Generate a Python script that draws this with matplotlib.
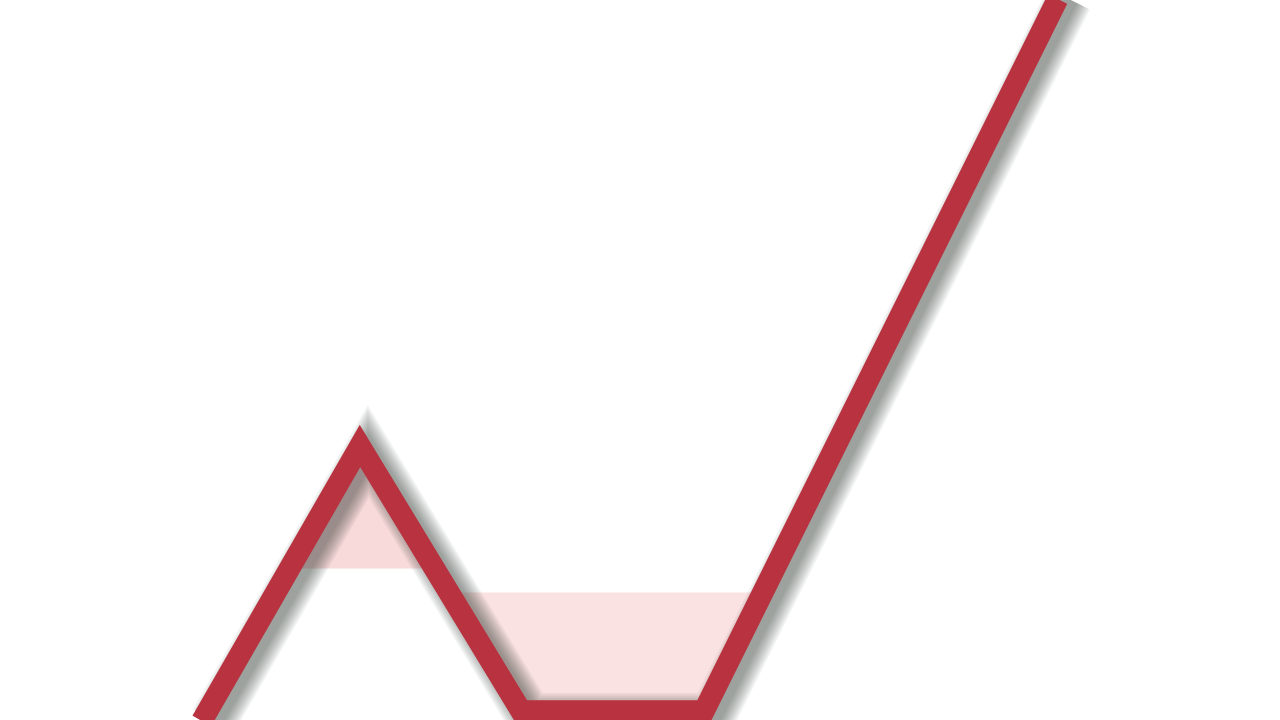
import numpy as np
import matplotlib
matplotlib.use('Agg')
import matplotlib.pyplot as plt
import matplotlib.patheffects as pe

# Точки линии (x - по горизонтали, y - высота от нижнего края)
x = np.array([188, 360, 521, 704, 1072])
y = np.array([-25, 274, 9, 9, 750])

# Уровни заливки
peak_level = 152
valley_level = 128

fig = plt.figure(figsize=(12.8, 7.2), dpi=100)
ax = fig.add_axes([0, 0, 1, 1])
ax.set_xlim(0, 1280)
ax.set_ylim(0, 720)
ax.axis('off')

# Розовые заливки
ax.fill_between(x[:3], y[:3], peak_level, where=y[:3] >= peak_level,
                interpolate=True, color='#f9dada', lw=0, zorder=1)
ax.fill_between(x[1:], y[1:], valley_level, where=y[1:] <= valley_level,
                interpolate=True, color='#fbe2e2', lw=0, zorder=1)

# Размытая тень из нескольких слоёв
shadows = []
for k in range(9):
    shadows.append(pe.SimpleLineShadow(offset=(6, -4), shadow_color='#1e2a22',
                                       alpha=0.06, linewidth=14 + k * 2.5))
shadows.append(pe.Normal())

ax.plot(x, y, color='#b8323f', lw=15.5, solid_joinstyle='miter',
        solid_capstyle='butt', zorder=3, path_effects=shadows)

plt.savefig('out.png', dpi=100)
